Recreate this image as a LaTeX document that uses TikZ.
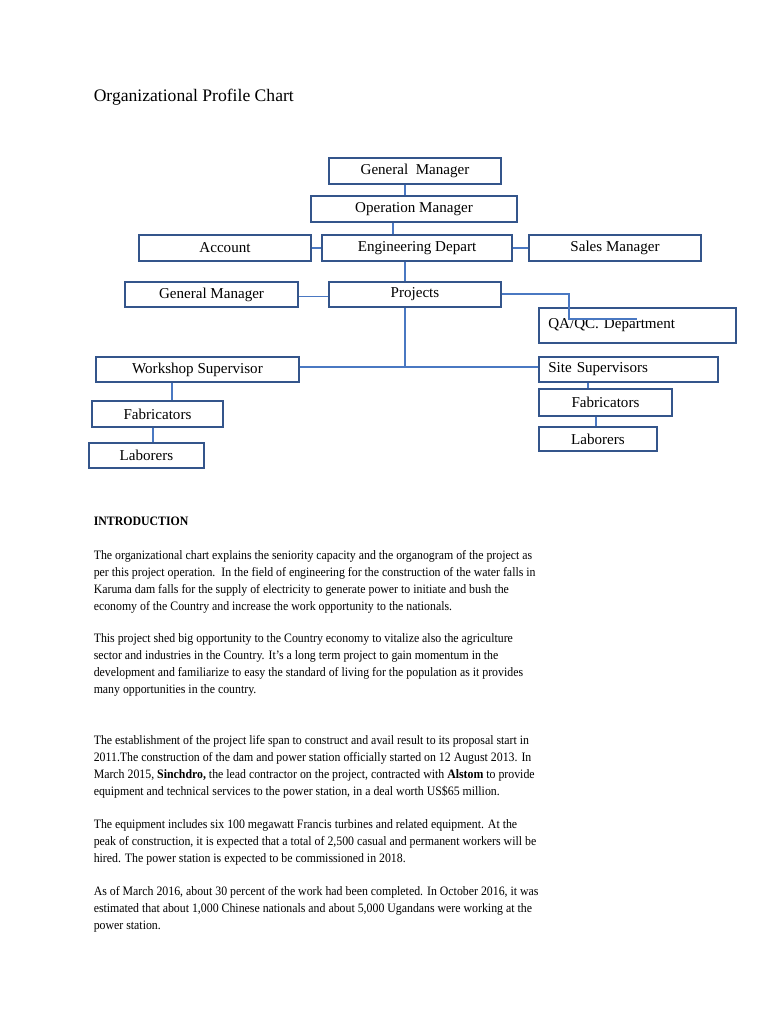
\documentclass[tikz,border=0pt]{standalone}
\usepackage{fontspec}
\setmainfont{Liberation Serif}
\newfontfamily\narrowserif[FakeStretch=0.92]{Liberation Serif}
\newcommand\boxfnt{\fontsize{11.3}{13}\selectfont}
\newcommand\bodyfnt{\narrowserif\fontsize{9.65}{11}\selectfont}
\newcommand\titlefnt{\fontsize{13.2}{15}\selectfont}
\definecolor{boxline}{HTML}{34558B}
\definecolor{conline}{HTML}{4A78C2}
\tikzset{
  orgbox/.style 2 args={draw=boxline, line width=0.9pt, inner sep=0pt,
    minimum width=#1*0.75pt, minimum height=#2*0.75pt, font=\boxfnt},
  leftbox/.style 2 args={orgbox={#1}{#2}, text width=#1*0.75pt-14pt, align=left,
    inner xsep=7pt},
  conn/.style={draw=conline, line width=0.9pt},
  body/.style={anchor=base west, inner sep=0pt, font=\bodyfnt},
}
\begin{document}
\begin{tikzpicture}[x=0.75pt, y=-0.75pt]
\fill[white] (0,0) rectangle (768,1024);
\useasboundingbox (0,0) rectangle (768,1024);

% title
\node[body, font=\titlefnt] (title) at (93.5,102) {Organizational Profile Chart};

% boxes
\node[orgbox={172}{26}] (gm) at (415,171) {General\ \ Manager};
\node[orgbox={206}{26}] (om) at (414,209) {Operation Manager};
\node[orgbox={172}{26}] (acc) at (225,248) {Account};
\node[orgbox={190}{26}] (ed) at (417,248) {Engineering Depart};
\node[orgbox={172}{26}] (sales) at (615,248) {Sales Manager};
\node[orgbox={173}{25}] (gm2) at (211.5,294.5) {General Manager};
\node[orgbox={172}{25}] (proj) at (415,294.5) {Projects};
\node[leftbox={197}{35}] (qa) at (637.5,325.5) {QA/QC. Department};
\node[orgbox={203}{25}] (ws) at (197.5,369.5) {Workshop Supervisor};
\node[leftbox={179}{25}] (ss) at (628.5,369.5) {Site Supervisors};
\node[orgbox={131}{26}] (fabL) at (157.5,414) {Fabricators};
\node[orgbox={115}{25}] (labL) at (146.5,455.5) {Laborers};
\node[orgbox={133}{27}] (fabR) at (605.5,402.5) {Fabricators};
\node[orgbox={118}{24}] (labR) at (598,439) {Laborers};

% connectors
\draw[conn] (405,0 |- gm.south) -- (405,0 |- om.north);
\draw[conn] (393,0 |- om.south) -- (393,0 |- ed.north);
\draw[conn] (acc.east) -- (ed.west);
\draw[conn] (ed.east) -- (sales.west);
\draw[conn] (405,0 |- ed.south) -- (405,0 |- proj.north);
\draw[conn] (gm2.east |- 0,296.5) -- (proj.west |- 0,296.5);
\coordinate (qaend) at (637,319);
\draw[conn] (proj.east |- 0,294) -| (569,319) -- (qaend);
\coordinate (split) at (405,367);
\draw[conn] (405,0 |- proj.south) -- (split);
\draw[conn] (ws.east |- split) -- (ss.west |- split);
\draw[conn] (172,0 |- ws.south) -- (172,0 |- fabL.north);
\draw[conn] (153,0 |- fabL.south) -- (153,0 |- labL.north);
\draw[conn] (588,0 |- ss.south) -- (588,0 |- fabR.north);
\draw[conn] (596,0 |- fabR.south) -- (596,0 |- labR.north);

% text
\node[body, font=\bodyfnt\bfseries] (intro) at (93.5,525) {INTRODUCTION};

\node[body] (p1a) at (93.5,559) {The organizational chart explains the seniority capacity and the organogram of the project as};
\node[body] (p1b) at (93.5,576) {per this project operation.\ \ In the field of engineering for the construction of the water falls in};
\node[body] (p1c) at (93.5,593) {Karuma dam falls for the supply of electricity to generate power to initiate and bush the};
\node[body] (p1d) at (93.5,610) {economy of the Country and increase the work opportunity to the nationals.};

\node[body] (p2a) at (93.5,642) {This project shed big opportunity to the Country economy to vitalize also the agriculture};
\node[body] (p2b) at (93.5,659) {sector and industries in the Country. It’s a long term project to gain momentum in the};
\node[body] (p2c) at (93.5,676) {development and familiarize to easy the standard of living for the population as it provides};
\node[body] (p2d) at (93.5,693) {many opportunities in the country.};

\node[body] (p3a) at (93.5,744) {The establishment of the project life span to construct and avail result to its proposal start in};
\node[body] (p3b) at (93.5,761) {2011.The construction of the dam and power station officially started on 12 August 2013. In};
\node[body] (p3c) at (93.5,778) {March 2015, \textbf{Sinchdro,} the lead contractor on the project, contracted with \textbf{Alstom} to provide};
\node[body] (p3d) at (93.5,795) {equipment and technical services to the power station, in a deal worth US\$65 million.};

\node[body] (p4a) at (93.5,828) {The equipment includes six 100 megawatt Francis turbines and related equipment. At the};
\node[body] (p4b) at (93.5,845) {peak of construction, it is expected that a total of 2,500 casual and permanent workers will be};
\node[body] (p4c) at (93.5,862) {hired. The power station is expected to be commissioned in 2018.};

\node[body] (p5a) at (93.5,895) {As of March 2016, about 30 percent of the work had been completed. In October 2016, it was};
\node[body] (p5b) at (93.5,912) {estimated that about 1,000 Chinese nationals and about 5,000 Ugandans were working at the};
\node[body] (p5c) at (93.5,929) {power station.};
\end{tikzpicture}
\end{document}
